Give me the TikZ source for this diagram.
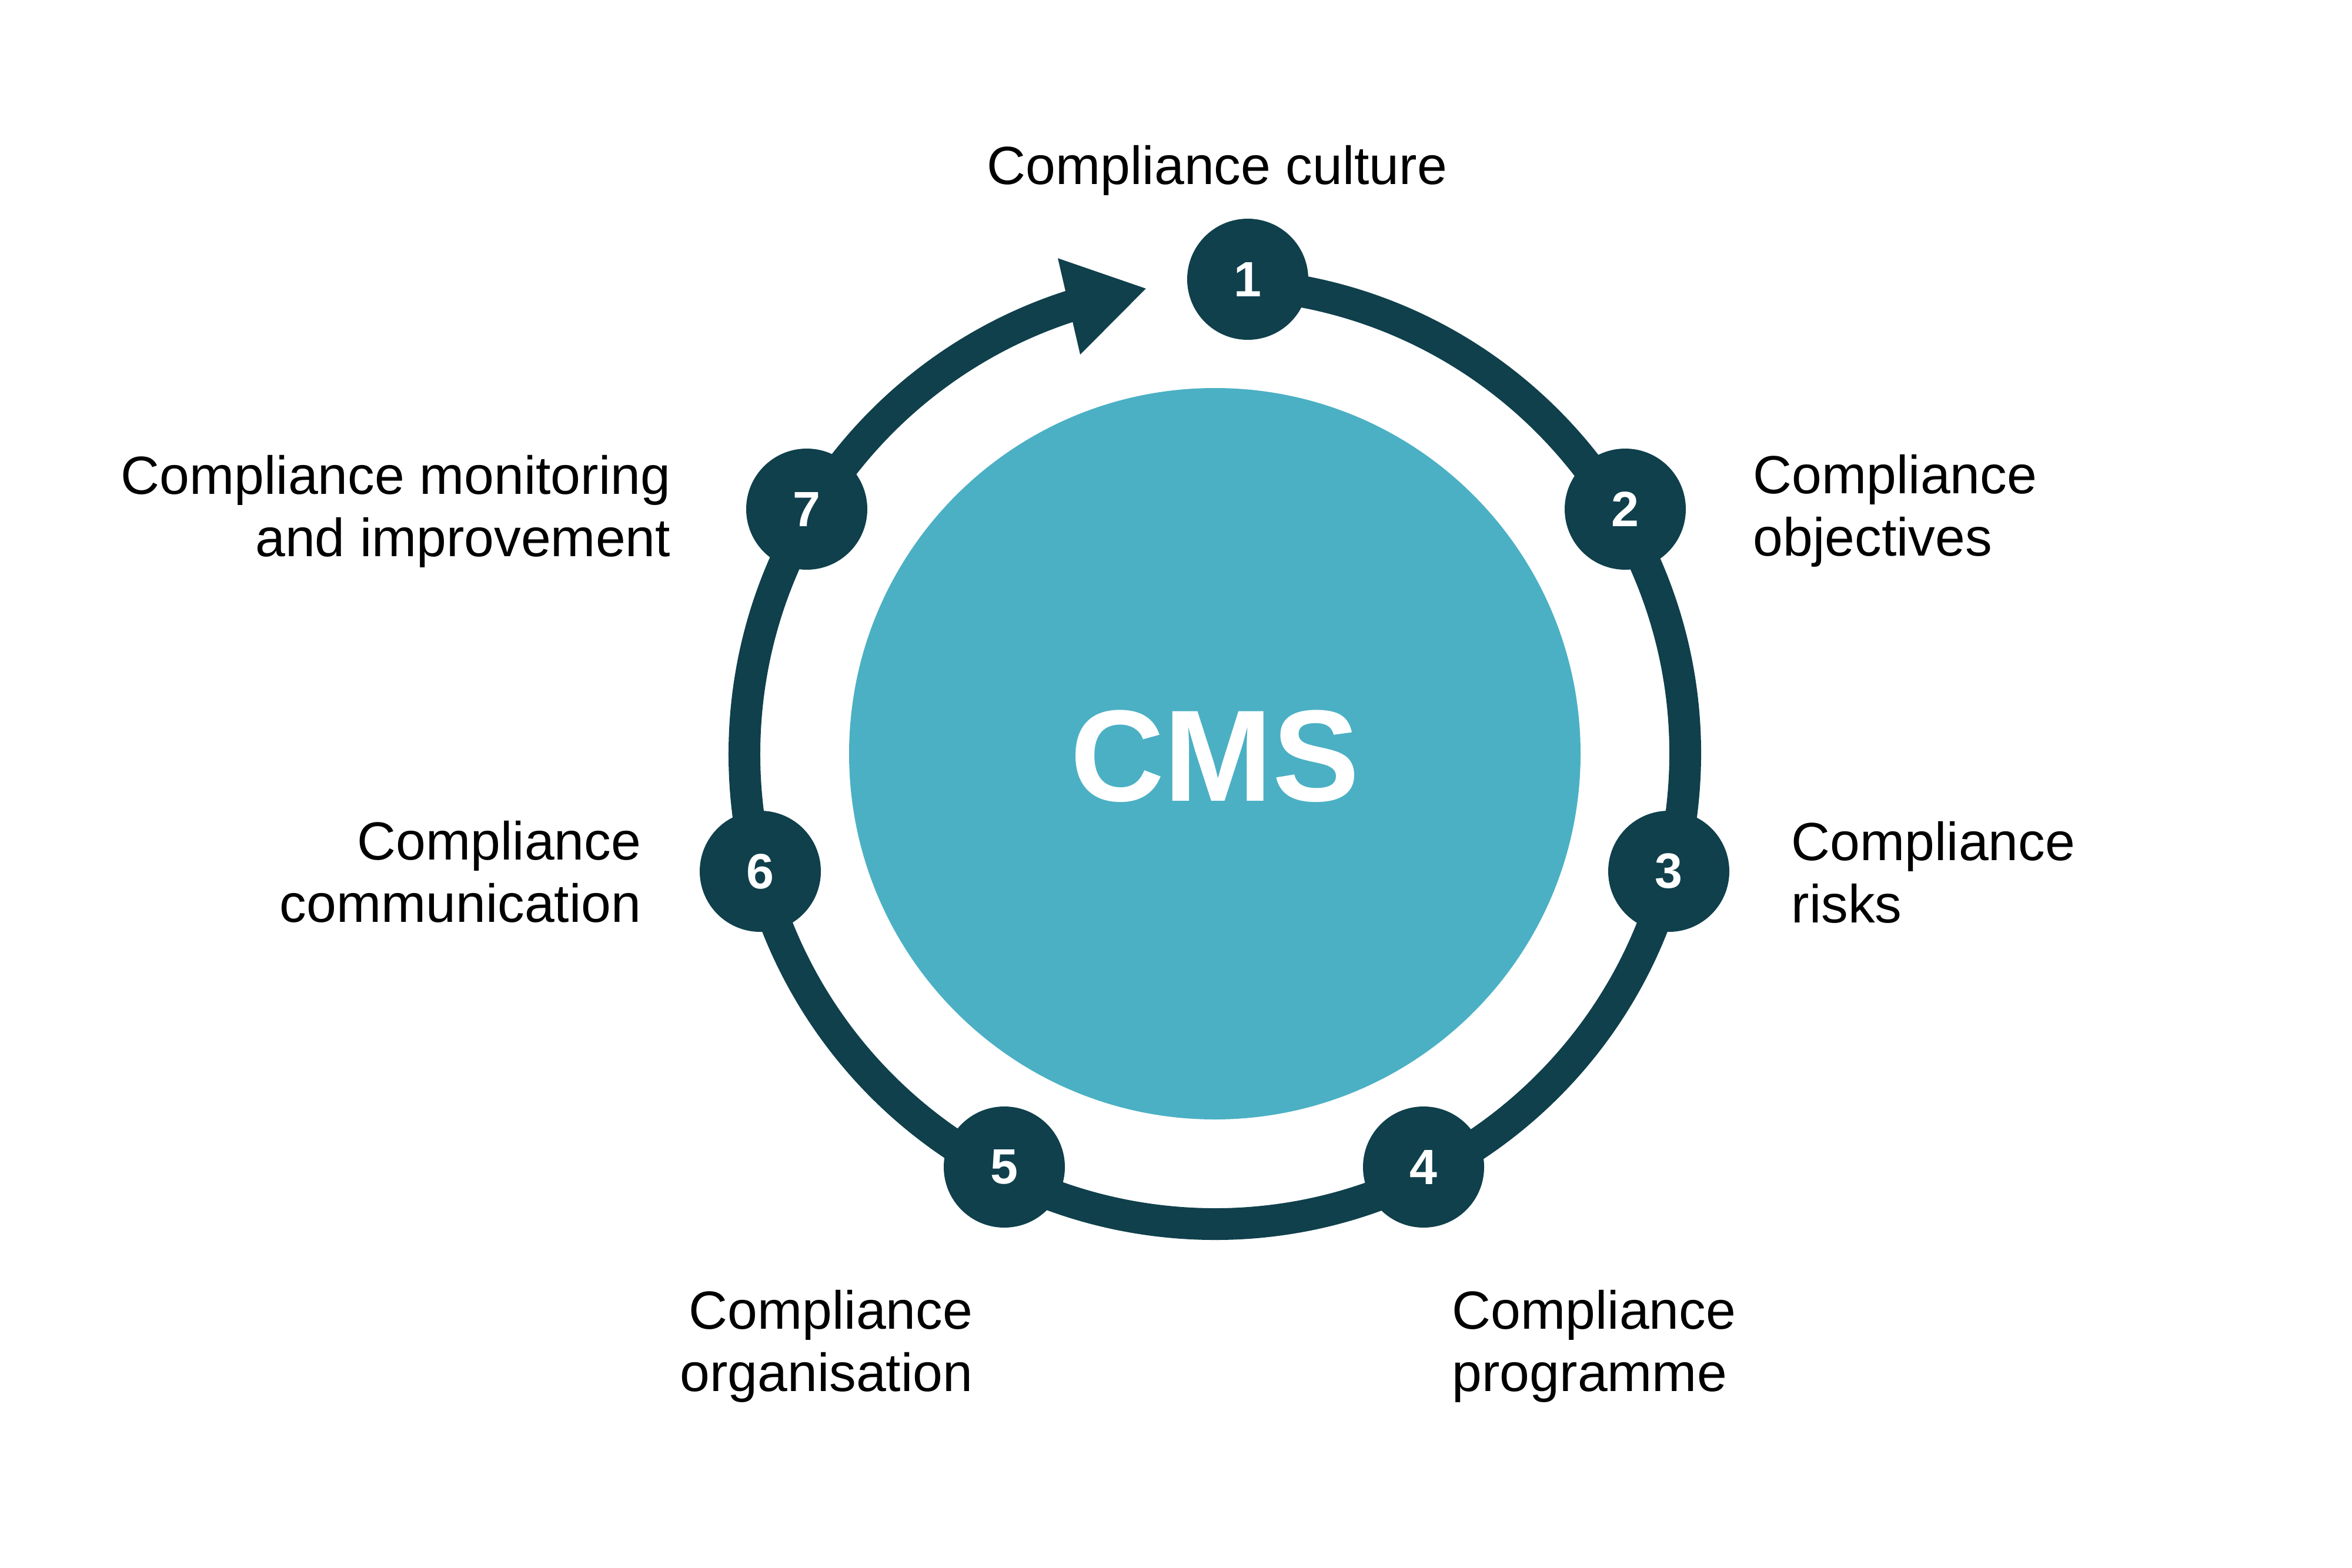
\documentclass[tikz,border=0pt]{standalone}
\usepackage{fontspec}
\setmainfont{Liberation Sans}
\usetikzlibrary{arrows.meta,bending}
\definecolor{cmsdark}{HTML}{0F404C}
\definecolor{cmslight}{HTML}{4BB0C4}

\begin{document}
\begin{tikzpicture}
    \tikzstyle{ring} = [line width=0.54cm, cmsdark, -{Triangle[length=1.36cm, width=1.58cm]}]
    \tikzstyle{stage} = [circle, fill=cmsdark, minimum size=2.06cm, inner sep=0, text=white, font=\fontsize{24}{24}\selectfont\bfseries]
    \tikzstyle{stagetext} = [inner sep=0, font=\fontsize{26}{30}\selectfont]

    \useasboundingbox (0, 0) rectangle (40, -26.67);

    \coordinate (c) at (20.66, -12.82);
    \node[circle, fill=cmslight, minimum size=12.44cm, inner sep=0] (core) at (c) {};
    \node[text=white, inner sep=0, font=\fontsize{63}{63}\selectfont\bfseries] (cms) at (20.66, -12.86) {CMS};

    \draw [ring] (c) ++(86:8) arc [start angle=86, end angle=-261.7, radius=8];

    \node[stage] (s1) at (21.22, -4.75) {1};
    \node[stage] (s2) at (27.64, -8.66) {2};
    \node[stage] (s3) at (28.38, -14.82) {3};
    \node[stage] (s4) at (24.21, -19.85) {4};
    \node[stage] (s5) at (17.08, -19.85) {5};
    \node[stage] (s6) at (12.93, -14.82) {6};
    \node[stage] (s7) at (13.72, -8.66) {7};

    % base = baseline of the last line
    \node[stagetext, anchor=base] (t1) at (20.70, -3.13) {Compliance culture};
    \node[stagetext, anchor=base west, align=left] (t2) at (29.81, -9.45) {Compliance\\objectives};
    \node[stagetext, anchor=base west, align=left] (t3) at (30.46, -15.69) {Compliance\\risks};
    \node[stagetext, anchor=base west, align=left] (t4) at (24.69, -23.66) {Compliance\\programme};
    \node[stagetext, anchor=base east, align=right] (t5) at (16.55, -23.66) {Compliance\\organisation};
    \node[stagetext, anchor=base east, align=right] (t6) at (10.91, -15.68) {Compliance\\communication};
    \node[stagetext, anchor=base east, align=right] (t7) at (11.41, -9.46) {Compliance monitoring\\and improvement};
\end{tikzpicture}
\end{document}
